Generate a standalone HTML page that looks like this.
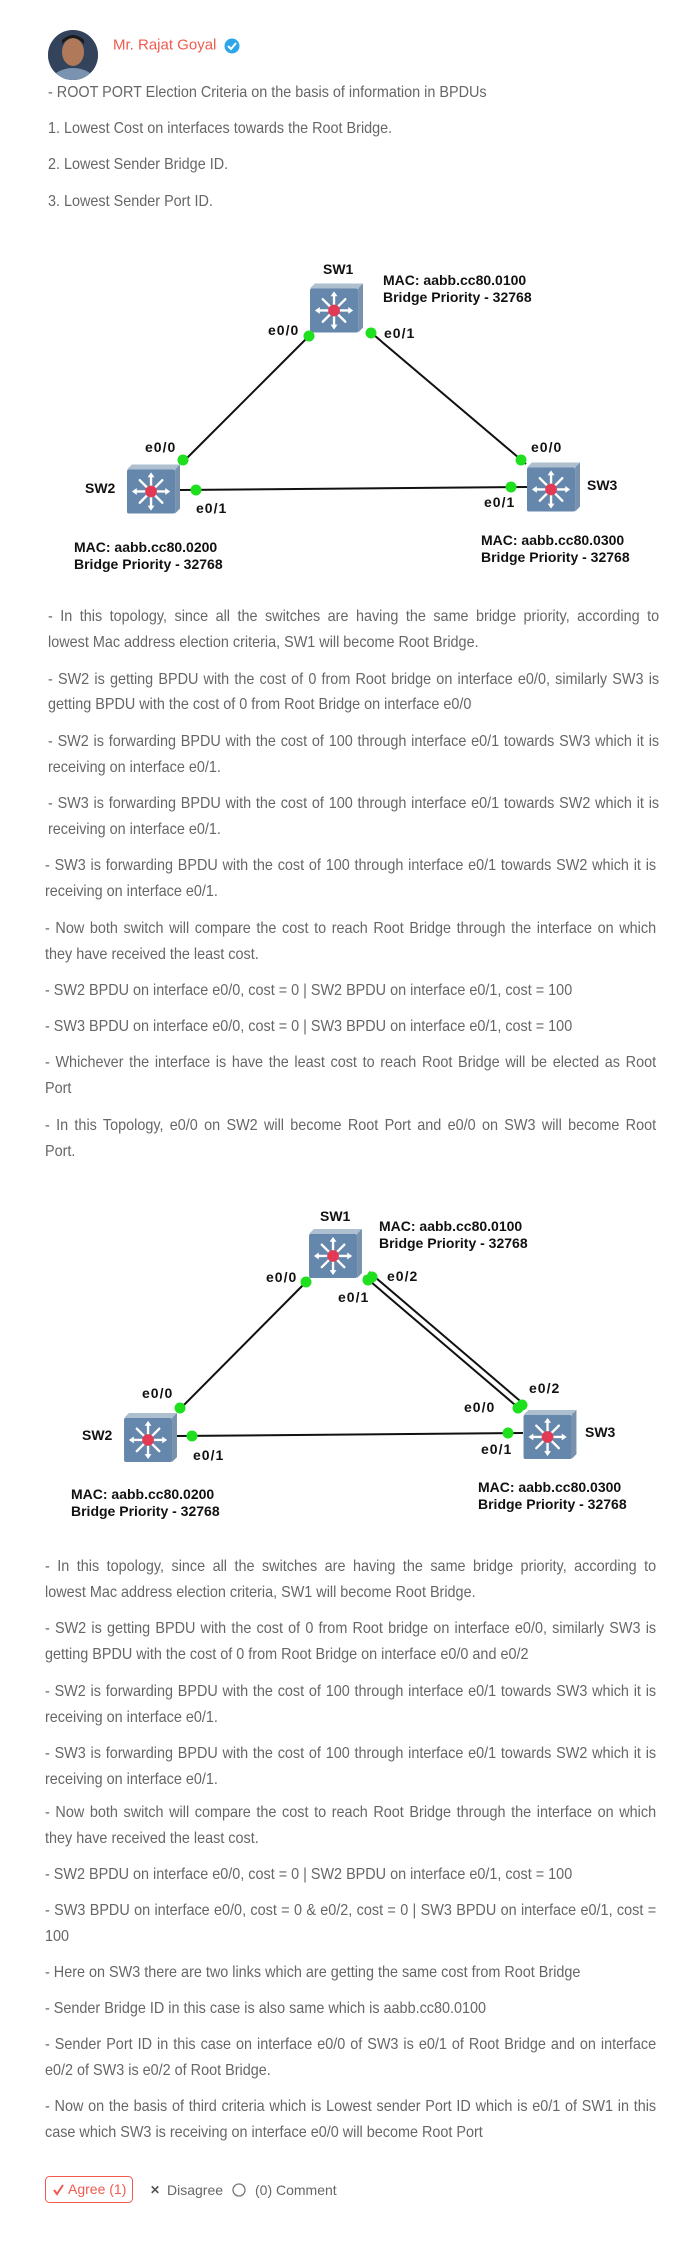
<!DOCTYPE html>
<html><head><meta charset="utf-8">
<style>
html,body{margin:0;padding:0;background:#fff;}
body{width:698px;height:2250px;position:relative;overflow:hidden;font-family:"Liberation Sans",sans-serif;}
.l{position:absolute;height:26px;line-height:26px;font-size:16px;color:#666;white-space:nowrap;transform:scaleX(.9);transform-origin:0 0;}
.j{width:679px;text-align:justify;text-align-last:justify;}
svg text{font-family:"Liberation Sans",sans-serif;font-weight:bold;font-size:14px;fill:#111;dominant-baseline:central;}
</style></head><body>

<svg style="position:absolute;left:0;top:0" width="698" height="2250">
<defs>
<clipPath id="av"><circle cx="73" cy="55" r="25"/></clipPath>
<symbol id="sw" viewBox="0 0 54 50">
<polygon points="0,5 5,0 54,0 49,5" fill="#aebfd0"/>
<polygon points="49,5 54,0 54,45 49,50" fill="#7892ad"/>
<rect x="0" y="5" width="49" height="45" rx="2" fill="#6587ab"/>
<g stroke="#fff" stroke-width="2.4" stroke-linecap="round">
<line x1="24.5" y1="27.5" x2="24.5" y2="11"/><line x1="24.5" y1="27.5" x2="24.5" y2="44"/>
<line x1="24.5" y1="27.5" x2="8" y2="27.5"/><line x1="24.5" y1="27.5" x2="41" y2="27.5"/>
<line x1="24.5" y1="27.5" x2="13" y2="16"/><line x1="24.5" y1="27.5" x2="36" y2="39"/>
<line x1="24.5" y1="27.5" x2="36" y2="16"/><line x1="24.5" y1="27.5" x2="13" y2="39"/>
</g>
<g fill="#fff">
<polygon points="24.5,8 21,13 28,13"/><polygon points="24.5,47 21,42 28,42"/>
<polygon points="5,27.5 10,24 10,31"/><polygon points="44,27.5 39,24 39,31"/>
</g>
<circle cx="24.5" cy="27.5" r="6" fill="#e23a55"/>
</symbol>
</defs>
<g clip-path="url(#av)">
<rect x="48" y="30" width="50" height="50" fill="#2a3548"/>
<rect x="48" y="30" width="50" height="50" fill="#3b4d6a" opacity=".6"/>
<ellipse cx="73" cy="52" rx="11" ry="14" fill="#b07a5a"/>
<path d="M62 44 Q73 32 84 44 L84 40 Q73 30 62 40Z" fill="#1a1a1a"/>
<ellipse cx="73" cy="82" rx="22" ry="14" fill="#7a93b0"/>
</g>
<text x="113" y="45" style="font-weight:normal;font-size:15px;fill:#f05a4f">Mr. Rajat Goyal</text>
<circle cx="232" cy="46" r="7.5" fill="#2da5e8"/>
<polyline points="228,46 231,49 236,43" fill="none" stroke="#fff" stroke-width="2"/>

<!-- Diagram 1 -->
<g stroke="#111" stroke-width="2" fill="none">
<line x1="312" y1="333" x2="181" y2="464"/>
<line x1="368" y1="330" x2="526" y2="464"/>
<line x1="180" y1="490" x2="527" y2="487"/>
</g>
<use href="#sw" x="310" y="283" width="53" height="50"/>
<use href="#sw" x="127" y="464" width="53" height="50"/>
<use href="#sw" x="527" y="462" width="53" height="50"/>
<g fill="#1fe01f">
<circle cx="309" cy="336" r="5.5"/><circle cx="371" cy="333" r="5.5"/>
<circle cx="183" cy="460" r="5.5"/><circle cx="521" cy="460" r="5.5"/>
<circle cx="196" cy="490" r="5.5"/><circle cx="511" cy="487" r="5.5"/>
</g>
<text x="323" y="269">SW1</text>
<text x="383" y="280">MAC: aabb.cc80.0100</text>
<text x="383" y="297">Bridge Priority - 32768</text>
<text x="268" y="330" letter-spacing="1">e0/0</text>
<text x="384" y="333" letter-spacing="1">e0/1</text>
<text x="145" y="447" letter-spacing="1">e0/0</text>
<text x="85" y="488">SW2</text>
<text x="196" y="508" letter-spacing="1">e0/1</text>
<text x="531" y="447" letter-spacing="1">e0/0</text>
<text x="484" y="502" letter-spacing="1">e0/1</text>
<text x="587" y="485">SW3</text>
<text x="74" y="547">MAC: aabb.cc80.0200</text>
<text x="74" y="564">Bridge Priority - 32768</text>
<text x="481" y="540">MAC: aabb.cc80.0300</text>
<text x="481" y="557">Bridge Priority - 32768</text>

<!-- Diagram 2 -->
<g stroke="#111" stroke-width="2" fill="none">
<line x1="309" y1="1279" x2="178" y2="1411"/>
<line x1="364" y1="1276" x2="521" y2="1410"/>
<line x1="369" y1="1272" x2="526" y2="1406"/>
<line x1="177" y1="1436" x2="523" y2="1433"/>
</g>
<use href="#sw" x="309" y="1229" width="53" height="49"/>
<use href="#sw" x="124" y="1413" width="53" height="49"/>
<use href="#sw" x="523" y="1410" width="54" height="49"/>
<g fill="#1fe01f">
<circle cx="306" cy="1282" r="5.5"/><circle cx="368" cy="1280" r="5.5"/><circle cx="372" cy="1277" r="5.5"/>
<circle cx="180" cy="1408" r="5.5"/><circle cx="518" cy="1408" r="5.5"/><circle cx="522" cy="1405" r="5.5"/>
<circle cx="192" cy="1436" r="5.5"/><circle cx="508" cy="1433" r="5.5"/>
</g>
<text x="320" y="1216">SW1</text>
<text x="379" y="1226">MAC: aabb.cc80.0100</text>
<text x="379" y="1243">Bridge Priority - 32768</text>
<text x="266" y="1277" letter-spacing="1">e0/0</text>
<text x="387" y="1276" letter-spacing="1">e0/2</text>
<text x="338" y="1297" letter-spacing="1">e0/1</text>
<text x="142" y="1393" letter-spacing="1">e0/0</text>
<text x="82" y="1435">SW2</text>
<text x="193" y="1455" letter-spacing="1">e0/1</text>
<text x="529" y="1388" letter-spacing="1">e0/2</text>
<text x="464" y="1407" letter-spacing="1">e0/0</text>
<text x="481" y="1449" letter-spacing="1">e0/1</text>
<text x="585" y="1432">SW3</text>
<text x="71" y="1494">MAC: aabb.cc80.0200</text>
<text x="71" y="1511">Bridge Priority - 32768</text>
<text x="478" y="1487">MAC: aabb.cc80.0300</text>
<text x="478" y="1504">Bridge Priority - 32768</text>

<!-- buttons -->
<rect x="45.5" y="2176.5" width="87" height="26" rx="4" fill="none" stroke="#f05a4f"/>
<polyline points="54,2190 57,2194 63,2185" fill="none" stroke="#f05a4f" stroke-width="2"/>
<text x="68" y="2189" style="font-weight:normal;font-size:14px;fill:#f05a4f">Agree (1)</text>
<text x="150" y="2190" style="font-size:12px;fill:#555">✕</text>
<text x="167" y="2190" style="font-weight:normal;font-size:14px;fill:#666">Disagree</text>
<circle cx="239" cy="2190" r="6" fill="none" stroke="#777" stroke-width="1.3"/>
<text x="255" y="2190" style="font-weight:normal;font-size:14px;fill:#666">(0) Comment</text>
</svg>

<div class="l" style="left:48px;top:80px">- ROOT PORT Election Criteria on the basis of information in BPDUs</div>
<div class="l" style="left:48px;top:116px">1. Lowest Cost on interfaces towards the Root Bridge.</div>
<div class="l" style="left:48px;top:152px">2. Lowest Sender Bridge ID.</div>
<div class="l" style="left:48px;top:189px">3. Lowest Sender Port ID.</div>

<div class="l j" style="left:48px;top:604px">- In this topology, since all the switches are having the same bridge priority, according to</div>
<div class="l" style="left:48px;top:630px">lowest Mac address election criteria, SW1 will become Root Bridge.</div>
<div class="l j" style="left:48px;top:667px">- SW2 is getting BPDU with the cost of 0 from Root bridge on interface e0/0, similarly SW3 is</div>
<div class="l" style="left:48px;top:692px">getting BPDU with the cost of 0 from Root Bridge on interface e0/0</div>
<div class="l j" style="left:48px;top:729px">- SW2 is forwarding BPDU with the cost of 100 through interface e0/1 towards SW3 which it is</div>
<div class="l" style="left:48px;top:755px">receiving on interface e0/1.</div>
<div class="l j" style="left:48px;top:791px">- SW3 is forwarding BPDU with the cost of 100 through interface e0/1 towards SW2 which it is</div>
<div class="l" style="left:48px;top:817px">receiving on interface e0/1.</div>
<div class="l j" style="left:45px;top:853px">- SW3 is forwarding BPDU with the cost of 100 through interface e0/1 towards SW2 which it is</div>
<div class="l" style="left:45px;top:879px">receiving on interface e0/1.</div>
<div class="l j" style="left:45px;top:916px">- Now both switch will compare the cost to reach Root Bridge through the interface on which</div>
<div class="l" style="left:45px;top:942px">they have received the least cost.</div>
<div class="l" style="left:45px;top:978px">- SW2 BPDU on interface e0/0, cost = 0 | SW2 BPDU on interface e0/1, cost = 100</div>
<div class="l" style="left:45px;top:1014px">- SW3 BPDU on interface e0/0, cost = 0 | SW3 BPDU on interface e0/1, cost = 100</div>
<div class="l j" style="left:45px;top:1050px">- Whichever the interface is have the least cost to reach Root Bridge will be elected as Root</div>
<div class="l" style="left:45px;top:1076px">Port</div>
<div class="l j" style="left:45px;top:1113px">- In this Topology, e0/0 on SW2 will become Root Port and e0/0 on SW3 will become Root</div>
<div class="l" style="left:45px;top:1139px">Port.</div>

<div class="l j" style="left:45px;top:1554px">- In this topology, since all the switches are having the same bridge priority, according to</div>
<div class="l" style="left:45px;top:1580px">lowest Mac address election criteria, SW1 will become Root Bridge.</div>
<div class="l j" style="left:45px;top:1616px">- SW2 is getting BPDU with the cost of 0 from Root bridge on interface e0/0, similarly SW3 is</div>
<div class="l" style="left:45px;top:1642px">getting BPDU with the cost of 0 from Root Bridge on interface e0/0 and e0/2</div>
<div class="l j" style="left:45px;top:1679px">- SW2 is forwarding BPDU with the cost of 100 through interface e0/1 towards SW3 which it is</div>
<div class="l" style="left:45px;top:1705px">receiving on interface e0/1.</div>
<div class="l j" style="left:45px;top:1741px">- SW3 is forwarding BPDU with the cost of 100 through interface e0/1 towards SW2 which it is</div>
<div class="l" style="left:45px;top:1767px">receiving on interface e0/1.</div>
<div class="l j" style="left:45px;top:1800px">- Now both switch will compare the cost to reach Root Bridge through the interface on which</div>
<div class="l" style="left:45px;top:1826px">they have received the least cost.</div>
<div class="l" style="left:45px;top:1862px">- SW2 BPDU on interface e0/0, cost = 0 | SW2 BPDU on interface e0/1, cost = 100</div>
<div class="l j" style="left:45px;top:1898px">- SW3 BPDU on interface e0/0, cost = 0 &amp; e0/2, cost = 0 | SW3 BPDU on interface e0/1, cost =</div>
<div class="l" style="left:45px;top:1924px">100</div>
<div class="l" style="left:45px;top:1960px">- Here on SW3 there are two links which are getting the same cost from Root Bridge</div>
<div class="l" style="left:45px;top:1996px">- Sender Bridge ID in this case is also same which is aabb.cc80.0100</div>
<div class="l j" style="left:45px;top:2032px">- Sender Port ID in this case on interface e0/0 of SW3 is e0/1 of Root Bridge and on interface</div>
<div class="l" style="left:45px;top:2058px">e0/2 of SW3 is e0/2 of Root Bridge.</div>
<div class="l j" style="left:45px;top:2094px">- Now on the basis of third criteria which is Lowest sender Port ID which is e0/1 of SW1 in this</div>
<div class="l" style="left:45px;top:2120px">case which SW3 is receiving on interface e0/0 will become Root Port</div>
</body></html>
